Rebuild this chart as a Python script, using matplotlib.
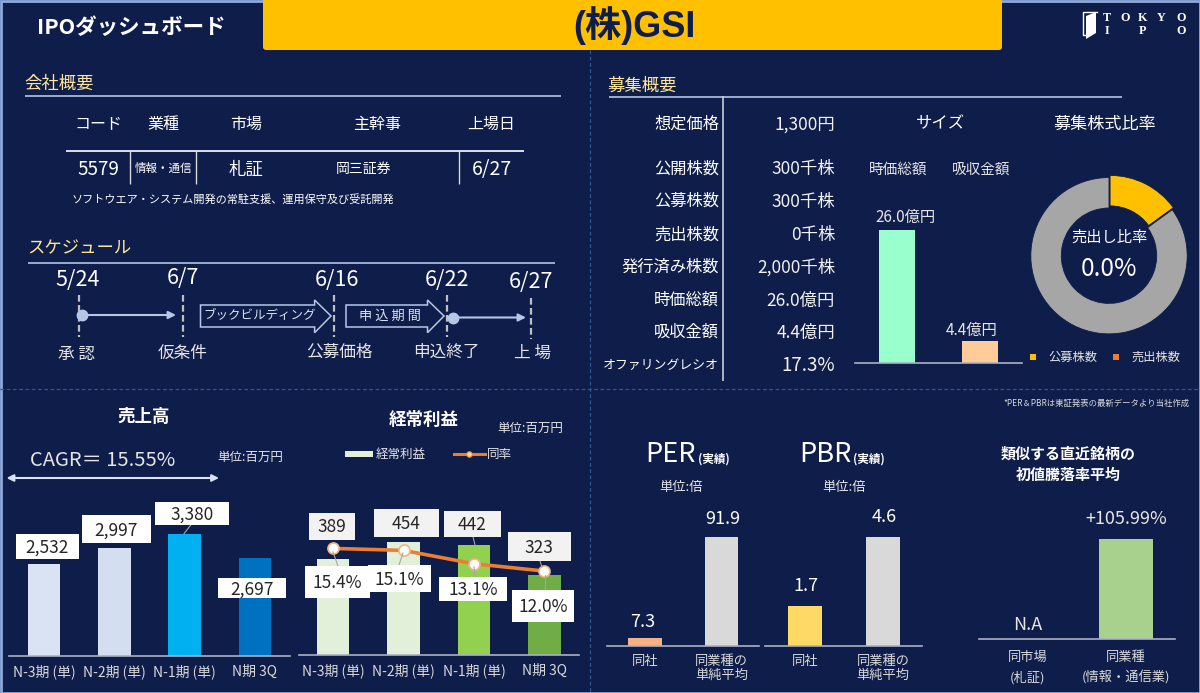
import matplotlib
matplotlib.use('Agg')
import matplotlib.pyplot as plt
from matplotlib.patches import Rectangle, FancyBboxPatch, Polygon

plt.rcParams['font.family'] = ['Noto Sans CJK JP', 'DejaVu Sans']

# データ
periods = ['N-3期 (単)', 'N-2期 (単)', 'N-1期 (単)', 'N期 3Q']
sales = [2532, 2997, 3380, 2697]
profit = [389, 454, 442, 323]
profit_rate = [15.4, 15.1, 13.1, 12.0]
size_names = ['時価総額', '吸収金額']
size_values = [26.0, 4.4]
share_ratio = [15, 85]
per_names = ['同社', '同業種の\n単純平均']
per_values = [7.3, 91.9]
pbr_values = [1.7, 4.6]
first_names = ['同市場\n(札証)', '同業種\n(情報・通信業)']
first_values = [0, 105.99]
offer_labels = ['想定価格', '公開株数', '公募株数', '売出株数', '発行済み株数', '時価総額', '吸収金額', 'オファリングレシオ']
offer_values = ['1,300円', '300千株', '300千株', '0千株', '2,000千株', '26.0億円', '4.4億円', '17.3%']
sched_dates = ['5/24', '6/7', '6/16', '6/22', '6/27']
sched_names = ['承 認', '仮条件', '公募価格', '申込終了', '上 場']

BG = '#0E1D49'
GOLD = '#FFC000'
HEAD = '#FFE699'
LINE = '#B4C7E7'
AXIS = '#A9B1C4'
TICK = '#D9D9D9'
W, H = 1200, 693

fig = plt.figure(figsize=(12, 6.93), dpi=100, facecolor=BG)

# 全体に重ねるピクセル座標の軸
ov = fig.add_axes([0, 0, 1, 1], zorder=5)
ov.set_xlim(0, W)
ov.set_ylim(H, 0)
ov.axis('off')


def put(x, y, s, size=10, color='white', ha='center', weight='normal', **kw):
    ov.text(x, y + 1.5, s, fontsize=size, color=color, ha=ha, va='center', fontweight=weight, **kw)


def hline(x0, x1, y, color=LINE, lw=1.2, **kw):
    ov.plot([x0, x1], [y, y], color=color, lw=lw, solid_capstyle='butt', **kw)


def vline(x, y0, y1, color=LINE, lw=1.2, **kw):
    ov.plot([x, x], [y0, y1], color=color, lw=lw, solid_capstyle='butt', **kw)


def bar_ax(left, right, top, bottom, xlim, ylim, xticks, labels, size=10, pad=6, spacing=1.3):
    ax = fig.add_axes([left / W, 1 - bottom / H, (right - left) / W, (bottom - top) / H], zorder=2)
    ax.set_facecolor('none')
    ax.set_xlim(*xlim)
    ax.set_ylim(*ylim)
    ax.set_yticks([])
    ax.set_xticks(xticks)
    ax.set_xticklabels(labels, fontsize=size, color=TICK, linespacing=spacing)
    ax.tick_params(axis='x', length=0, pad=pad)
    for s in ['top', 'left', 'right']:
        ax.spines[s].set_visible(False)
    ax.spines['bottom'].set_color(AXIS)
    ax.spines['bottom'].set_linewidth(1.2)
    return ax


def label_box(x0, x1, y0, y1, s, face='white', size=12.5):
    ov.add_patch(Rectangle((x0, y0), x1 - x0, y1 - y0, fc=face, ec='none', zorder=3))
    ov.text((x0 + x1) / 2, (y0 + y1) / 2 + 1, s, fontsize=size, color='#262626', ha='center', va='center', zorder=4)


# 枠と区切り線
ov.add_patch(Rectangle((0.5, 0.5), W - 1, H - 1, fc='none', ec='#8FAADC', lw=2))
vline(590, 50, 693, color='#2F5597', lw=0.9, ls=(0, (3, 2)))
hline(0, 1200, 388.5, color='#2F5597', lw=0.9, ls=(0, (3, 2)))

# ヘッダー
ov.add_patch(FancyBboxPatch((263, -10), 739, 60, boxstyle='round,pad=0,rounding_size=3', fc=GOLD, ec='none'))
put(131, 25.5, 'IPOダッシュボード', 15.5, weight='bold')
put(634, 24, '(株)GSI', 26, color=BG, weight='bold', family=['Liberation Sans', 'Noto Sans CJK JP'])

# ロゴ
ov.plot([1097, 1083, 1083, 1087], [12, 12, 35, 35], color='white', lw=1)
ov.add_patch(Polygon([(1086, 16), (1096, 12), (1096, 33), (1086, 39)], fc='white', ec='none'))
for x, c in zip([1107, 1125, 1143, 1161, 1181], 'TOKYO'):
    ov.text(x, 17.7, c, fontsize=8.7, color='white', ha='center', va='center', family='Liberation Serif', fontweight='bold')
for x, c in zip([1107, 1143, 1181], 'IPO'):
    ov.text(x, 31, c, fontsize=8.7, color='white', ha='center', va='center', family='Liberation Serif', fontweight='bold')

# 会社概要
put(24, 82, '会社概要', 12.5, HEAD, ha='left')
hline(25, 560.5, 95.7)
for x, s in zip([98.7, 163.5, 246, 377, 491], ['コード', '業種', '市場', '主幹事', '上場日']):
    put(x, 123, s, 11.5)
hline(65.5, 524, 151, color='white')
for x in [129.7, 195.6, 458.5]:
    vline(x, 151, 184, color='#D9D9D9', lw=1)
put(98.7, 168, '5579', 13.5)
put(163.5, 166.5, '情報・通信', 8.3)
put(246, 168, '札証', 12.5)
put(364, 167, '岡三証券', 10)
put(492, 168, '6/27', 14)
put(72, 198, 'ソフトウエア・システム開発の常駐支援、運用保守及び受託開発', 8, ha='left')

# スケジュール
put(27, 247, 'スケジュール', 12.5, HEAD, ha='left')
hline(27.5, 554.5, 262.7)
for x, y, s in zip([78, 183, 337, 447, 531], [278, 277, 278, 279, 281], sched_dates):
    put(x, y, s, 15.5)
for x, y, s in zip([77, 183, 339, 446, 532], [353, 352, 351, 351, 352], sched_names):
    put(x, y, s, 12, color='#E7E6E6')
for x, y0, y1 in [(78.5, 295, 337), (182.5, 295, 337), (333.7, 295, 337), (446.6, 295, 337), (531, 297.5, 339)]:
    vline(x, y0, y1, color='#BFBFBF', lw=1.6, ls=(0, (3, 1.5)))
for x0, x1, y in [(82, 176, 315), (453, 526, 317.5)]:
    ov.annotate('', xy=(x1, y), xytext=(x0, y),
                arrowprops=dict(arrowstyle='-|>', color=LINE, lw=1.5, mutation_scale=11, shrinkA=0, shrinkB=0))
    ov.plot([x0], [y], 'o', color=LINE, ms=7.5)
for x0, xh, x1 in [(200.5, 314.6, 331), (346, 427.5, 444)]:
    ov.add_patch(Polygon([(x0, 305), (xh, 305), (xh, 300), (x1, 316), (xh, 332.7), (xh, 327), (x0, 327)],
                         fc='none', ec=LINE, lw=1.1))
put(260, 314, 'ブックビルディング', 9, color='#DAE3F3')
put(390, 315, '申 込 期 間', 9.5, color='#DAE3F3')

# 募集概要
put(607, 84, '募集概要', 12.5, HEAD, ha='left')
hline(608.5, 1122, 96.7)
vline(723, 96, 381, color='#C9CED9')
rows = [123, 167.5, 200, 233.5, 266, 299, 331, 364]
for y, lab, val in zip(rows, offer_labels, offer_values):
    put(719, y, lab, 9.3 if lab == 'オファリングレシオ' else 11.7, ha='right')
    put(835, y, val, 12.5 if val != '17.3%' else 13.5, ha='right', color='#F2F2F2')

put(940.6, 122, 'サイズ', 11.8)
put(1105, 122, '募集株式比率', 12.3)
for x, s in zip([898.5, 981.5], size_names):
    put(x, 168, s, 10.5, color='#E7E6E6')

ax = bar_ax(855, 1022, 200, 363.3, (-0.5, 1.5), (0, 163.3 * 0.195), [0, 1], ['', ''])
ax.bar([0, 1], size_values, width=0.436, color=['#99FFCC', '#FFCC99'])
put(906, 216, f'{size_values[0]:.1f}億円', 11, color='#E7E6E6')
put(972, 329, f'{size_values[1]:.1f}億円', 11, color='#E7E6E6')

# ドーナツ
ax = fig.add_axes([(1109 - 86) / W, 1 - (255.7 + 86) / H, 172 / W, 172 / H], zorder=2)
ax.pie(share_ratio, colors=[GOLD, '#A6A6A6'], startangle=90, counterclock=False, radius=1, explode=[0.03, 0],
       wedgeprops=dict(width=0.39, edgecolor=BG, linewidth=0.6))
ax.set_xlim(-1.1, 1.1)
ax.set_ylim(-1.1, 1.1)
put(1109, 236, '売出し比率', 11)
put(1109, 267, '0.0%', 17.5)
for x, c, s in [(1033, GOLD, '公募株数'), (1115.5, '#ED7D31', '売出株数')]:
    ov.add_patch(Rectangle((x - 3, 354), 6, 6, fc=c, ec='none'))
    put(x + 15.5, 356, s, 8.8, color='#E7E6E6', ha='left')

# 売上高
put(144, 415.5, '売上高', 12.6, weight='bold')
put(250.7, 455.5, '単位:百万円', 9, color='#E7E6E6')
put(30, 459, 'CAGR＝ 15.55%', 14.5, color='#E7E6E6', ha='left')
ov.annotate('', xy=(219, 478), xytext=(6.5, 478),
            arrowprops=dict(arrowstyle='<|-|>', color='#DAE3F3', lw=1.5, mutation_scale=10, shrinkA=0, shrinkB=0))
ax = bar_ax(9, 290, 500, 656, (-0.5, 3.5), (0, 156 * 27.65), range(4), periods)
ax.bar(range(4), sales, width=0.46, color=['#DAE3F3', '#D3DEF0', '#00B0F0', '#0070C0'])
sales_boxes = [(16, 78.5, 533.7, 558.7), (81.5, 151, 515, 543.3), (155, 228.5, 501.7, 524.7), (217.8, 285.5, 578.3, 598)]
for b, v in zip(sales_boxes, sales):
    label_box(*b, f'{v:,}')
ov.plot([184, 191], [533.7, 524.7], color='#A6A6A6', lw=0.8)

# 経常利益
put(424, 418.5, '経常利益', 12.6, weight='bold')
put(530, 426.5, '単位:百万円', 9, color='#E7E6E6')
ov.add_patch(Rectangle((344.5, 451), 28.5, 6, fc='#E2F0D9', ec='none'))
put(376, 453, '経常利益', 9, color='#E7E6E6', ha='left')
ov.plot([454, 485], [454, 454], color='#ED7D31', lw=2.2)
ov.plot([469], [454], 'o', color='#ED7D31', mfc='#FFE699', mew=0.8, ms=4)
put(487, 453, '同率', 9, color='#E7E6E6', ha='left')

ax = bar_ax(298.5, 579, 505, 655, (-0.49, 3.49), (0, 150 * 4.035), range(4), periods)
ax.bar(range(4), profit, width=0.46, color=['#E2F0D9', '#E2F0D9', '#92D050', '#70AD47'])
ax2 = ax.twinx()
ax2.set_ylim(-0.57, 21.9)
ax2.axis('off')
ax2.plot(range(4), profit_rate, color='#ED7D31', lw=2.6, marker='o', ms=8, mfc='white', mec='#F4B183', mew=1.2)

for xs, ys in [((333, 338), (552, 566)), ((403, 399), (553, 565)), ((474, 475), (567, 577)),
               ((544.5, 544.5), (575, 590)), ((473, 475), (536.7, 545)), ((540, 542), (561, 567))]:
    ov.plot(xs, ys, color='#A6A6A6', lw=0.8, zorder=2)

profit_boxes = [(309, 355, 512.7, 540), (373.5, 439, 509.3, 536.7), (443.5, 500.6, 510.7, 536.7), (508, 570.6, 532.3, 561)]
rate_boxes = [(305.4, 370, 566, 598), (368, 430.5, 565.3, 592.3), (439, 507, 577, 601.3), (512.4, 574, 590, 622)]
for b, v in zip(profit_boxes, profit):
    label_box(*b, f'{v}', face='#F2F2F2')
for b, v in zip(rate_boxes, profit_rate):
    label_box(*b, f'{v:.1f}%')

# PER / PBR
put(1189.4, 402, '*PER＆PBRは東証発表の最新データより当社作成', 6, color='#D9D9D9', ha='right')
put(645, 453, 'PER', 19.5, ha='left')
put(698, 458, '(実績)', 8.3, ha='left', weight='bold')
put(799, 453, 'PBR', 19.5, ha='left')
put(853, 458, '(実績)', 8.3, ha='left', weight='bold')
put(681.5, 485.5, '単位:倍', 9.5, color='#E7E6E6')
put(844, 485.5, '単位:倍', 9.5, color='#E7E6E6')

ax = bar_ax(606.5, 759, 520, 646.3, (-0.5, 1.49), (0, 126.3 * 0.838), [0, 1], per_names, size=9.5, pad=6, spacing=1.15)
ax.bar([0, 1], per_values, width=0.44, color=['#F4B183', '#D9D9D9'])
put(643, 620.5, f'{per_values[0]}', 13)
put(723, 517.5, f'{per_values[1]}', 13)

ax = bar_ax(765, 922, 520, 646.3, (-0.51, 1.5), (0, 126.3 * 0.0419), [0, 1], per_names, size=9.5, pad=6, spacing=1.15)
ax.bar([0, 1], pbr_values, width=0.43, color=['#FFD966', '#D9D9D9'])
put(806, 584.5, f'{pbr_values[0]}', 13)
put(884, 515, f'{pbr_values[1]}', 13)

# 初値騰落率
put(1068, 452, '類似する直近銘柄の', 10.8, weight='bold')
put(1068, 473, '初値騰落率平均', 10.8, weight='bold')
ax = bar_ax(978.5, 1174.5, 525, 638.7, (-0.505, 1.495), (0, 113.7 * 1.063), [0, 1], first_names, size=9.5, pad=9, spacing=1.6)
ax.bar([0, 1], first_values, width=0.56, color=['#A9D18E', '#A9D18E'])
put(1028, 624, 'N.A', 13, color='#E7E6E6')
put(1126, 518, f'+{first_values[1]}%', 13, color='#E7E6E6')

fig.savefig('out.png', dpi=100, facecolor=BG)
